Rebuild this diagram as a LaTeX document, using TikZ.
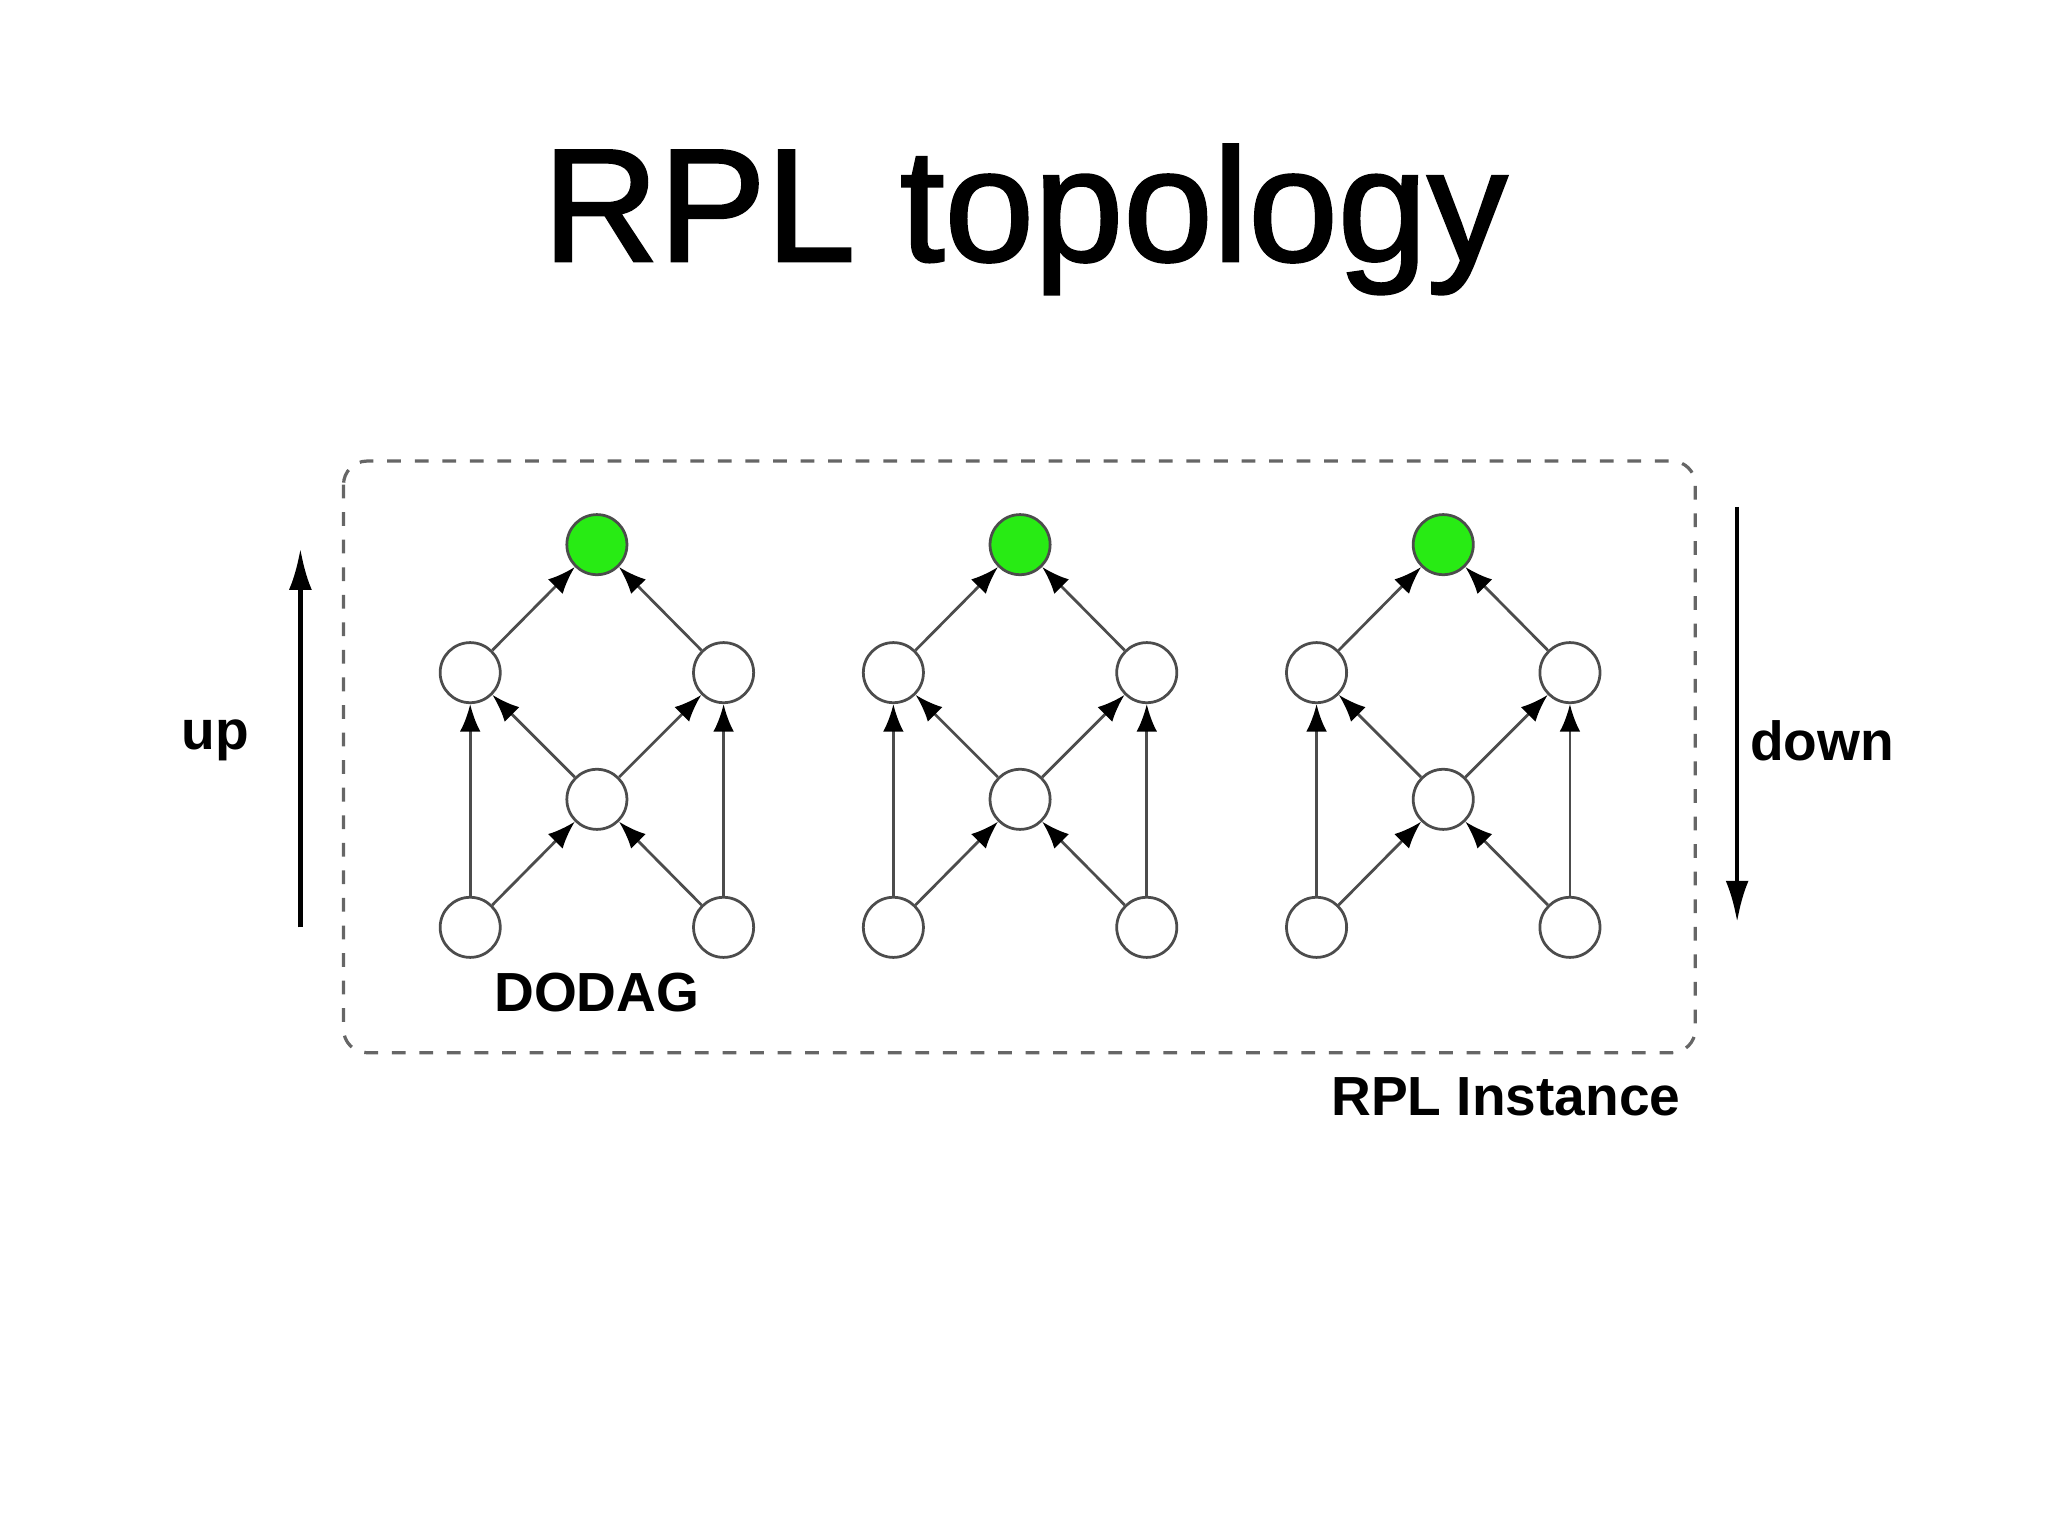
\documentclass[tikz,border=0pt]{standalone}
\usepackage{fontspec}
\setmainfont{Liberation Sans}
\newfontfamily\titlefont[FakeBold=1.6]{Liberation Sans}
\usetikzlibrary{arrows.meta}
\begin{document}
\begin{tikzpicture}[x=0.01cm,y=-0.01cm,
  nd/.style={circle,draw=black!70,fill=white,minimum size=0.46cm,inner sep=0pt,line width=0.6pt},
  rootnd/.style={nd,fill={rgb,255:red,40;green,235;blue,20}},
  ed/.style={-{Latex[length=6pt,width=4.5pt,fill=black,color=black]},draw=black!70,line width=0.6pt},
  lbl/.style={font=\bfseries\fontsize{12}{14}\selectfont}]
\useasboundingbox (0,0) rectangle (1568,1176);
\node[font=\titlefont\fontsize{35}{40}\selectfont] (title) at (785,168) {RPL topology};
\draw[dashed,black!60,line width=0.7pt,rounded corners=0.18cm] (263,353) rectangle (1298,806);
\foreach \i/\cx in {1/457,2/781,3/1105}{
  \node[rootnd] (r\i) at (\cx,417) {};
  \node[nd] (l\i) at (\cx-97,515) {};
  \node[nd] (m\i) at (\cx+97,515) {};
  \node[nd] (c\i) at (\cx,612) {};
  \node[nd] (bl\i) at (\cx-97,710) {};
  \node[nd] (br\i) at (\cx+97,710) {};
  \draw[ed] (l\i) -- (r\i);
  \draw[ed] (m\i) -- (r\i);
  \draw[ed] (c\i) -- (l\i);
  \draw[ed] (c\i) -- (m\i);
  \draw[ed] (bl\i) -- (l\i);
  \draw[ed] (bl\i) -- (c\i);
  \draw[ed] (br\i) -- (c\i);
  \draw[ed] (br\i) -- (m\i);
}
\coordinate (u0) at (230,710); \coordinate (u1) at (230,420);
\coordinate (d0) at (1330,388); \coordinate (d1) at (1330,706);
\draw[-{Latex[length=9pt,width=5pt]},line width=1pt] (u0) -- (u1);
\draw[-{Latex[length=9pt,width=5pt]},line width=1pt] (d0) -- (d1);
\node[lbl] (up) at (165,567) {up};
\node[lbl] (down) at (1395,567) {down};
\node[lbl] (dodag) at (457,760) {DODAG};
\node[lbl] (inst) at (1153,840) {RPL Instance};
\end{tikzpicture}
\end{document}
